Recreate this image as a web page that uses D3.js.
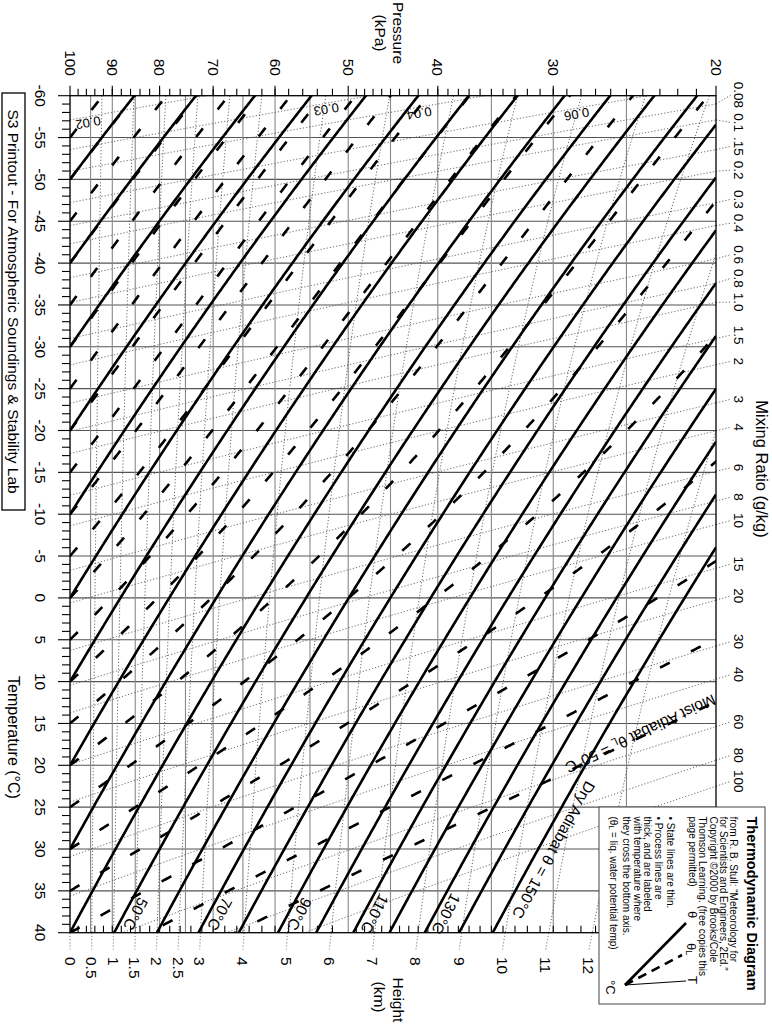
<!DOCTYPE html>
<html><head><meta charset="utf-8">
<script src="https://cdn.jsdelivr.net/npm/d3@7"></script>
<style>
body{margin:0;background:#fff}
svg{display:block}
text{font-family:"Liberation Sans",Arial,Helvetica,sans-serif;fill:#000}
</style>
</head><body>
<svg id="c" width="772" height="1024"></svg>
<script>
// ---------------- data ----------------
const pressureTicks = [100, 90, 80, 70, 60, 50, 40, 30, 20];
const temperatureTicks = [-60,-55,-50,-45,-40,-35,-30,-25,-20,-15,-10,-5,0,5,10,15,20,25,30,35,40];
const dryAdiabats = [-50,-40,-30,-20,-10,0,10,20,30,40,50,60,70,80,90,100,110,120,130,140,150];
const dryLabelled = [50, 70, 90, 110, 130];
const moistAdiabats = [-55,-50,-45,-40,-35,-30,-25,-20,-15,-10,-5,0,5,10,15,20,25,30,35,40,45,50];
const mixingRatios = [0.02,0.03,0.04,0.06,0.08,0.1,0.15,0.2,0.3,0.4,0.6,0.8,1.0,1.5,2,3,4,6,8,10,15,20,30,40,60,80,100];
const mixingLabels = ["0.02","0.03","0.04","0.06","0.08","0.1",".15","0.2","0.3","0.4","0.6","0.8","1.0","1.5","2","3","4","6","8","10","15","20","30","40","60","80","100"];
const heightsKm = [0,0.5,1,1.5,2,2.5,3,4,5,6,7,8,9,10,11,12];
const heightLabels = ["0","0.5","1","1.5","2","2.5","3","4","5","6","7","8","9","10","11","12"];
const legendLines = ["from R. B. Stull: \u201CMeteorology for","for Scientists and Engineers, 2Ed.\u201D","Copyright \u00A92000 by Brooks/Cole","Thomson Learning. (free copies this","page permitted)"];
const legendNotes = ["\u2022 State lines are thin.","\u2022 Process lines are","thick, and are labeled","with temperature where","they cross the bottom axis."];

// ---------------- setup ----------------
const svg = d3.select("#c");
const X0 = 70, X1 = 716, Y0 = 95.7, Y1 = 932.7;
const x = d3.scaleLog().domain([100, 20]).range([X0, X1]);
const y = d3.scaleLinear().domain([-60, 40]).range([Y0, Y1]);
const K = 273.15, Rd = 287, cp = 1004, Lv = 2.5e6, eps = 0.622, kap = Rd / cp;
const RoverG = 29.45;

svg.append("rect").attr("width", 772).attr("height", 1024).attr("fill", "#fff");
svg.append("defs").append("clipPath").attr("id", "plot")
  .append("rect").attr("x", X0).attr("y", Y0).attr("width", X1 - X0).attr("height", Y1 - Y0);

const line = d3.line().x(d => x(d[0])).y(d => y(d[1]));
const N = 500;
const Ps = d3.range(0, N + 1).map(i => 100 * Math.pow(0.2, i / N));

function es(Tc) { return 0.6113 * Math.exp(5423 * (1 / K - 1 / (Tc + K))); }
function rsat(Tk, P) { const e = es(Tk - K); return eps * e / (P - e); }
function Tmix(r, P) { const e = r * P / (eps + r); return 1 / (1 / K - Math.log(e / 0.6113) / 5423) - K; }

const plot = svg.append("g").attr("clip-path", "url(#plot)");

// grid
const gridT = d3.range(-55, 40, 5);
const gridP = d3.range(95, 20, -5);
plot.selectAll(".gt").data(gridT).join("line")
  .attr("x1", X0).attr("x2", X1).attr("y1", d => y(d)).attr("y2", d => y(d))
  .attr("stroke", "#555").attr("stroke-width", 1.1);
plot.selectAll(".gp").data(gridP).join("line")
  .attr("x1", d => x(d)).attr("x2", d => x(d)).attr("y1", Y0).attr("y2", Y1)
  .attr("stroke", "#888").attr("stroke-width", 1.1);

// height lines (dotted)
const Tlab = 42;
function heightPts(z, t0, t1) {
  return d3.range(0, 101).map(i => { const T = t0 + (t1 - t0) * i / 100; return [100 * Math.exp(-z * 1000 / (RoverG * (T + K))), T]; });
}
const dotted = { stroke: "#555", w: 0.9, dash: "1.2,2" };
heightsKm.forEach(z => {
  plot.append("path").attr("d", line(heightPts(z, -60, 40).filter(d => d[0] >= 19.9)))
    .attr("fill", "none").attr("stroke", dotted.stroke).attr("stroke-width", dotted.w).attr("stroke-dasharray", dotted.dash);
  svg.append("path").attr("d", line(heightPts(z, 40, Tlab)))
    .attr("fill", "none").attr("stroke", dotted.stroke).attr("stroke-width", dotted.w).attr("stroke-dasharray", dotted.dash);
});

// mixing ratio lines (dotted)
const Pend = x.invert(731);
const outer = [];
mixingRatios.forEach((r, i) => {
  const rk = r / 1000;
  const pts = Ps.map(P => [P, Tmix(rk, P)]);
  plot.append("path").attr("d", line(pts)).attr("fill", "none")
    .attr("stroke", dotted.stroke).attr("stroke-width", dotted.w).attr("stroke-dasharray", dotted.dash);
  if (Tmix(rk, 20) > -60) {
    const lab = mixingLabels[i];
    const em = lab.split("").reduce((s, ch) => s + (ch === "." ? 0.278 : 0.556), 0);
    outer.push({ i, yb: y(Tmix(rk, 20)), c: y(Tmix(rk, Pend)), half: em * 13.5 / 2 });
  }
});
// spread labels so they do not overlap
for (let it = 0; it < 300; it++) {
  for (let k = 0; k < outer.length - 1; k++) {
    const a = outer[k], b = outer[k + 1];
    const need = a.half + b.half + 5, gap = b.c - a.c;
    if (gap < need) { const d = (need - gap) / 2; a.c -= d; b.c += d; }
  }
}
outer.forEach(o => {
  svg.append("line").attr("x1", X1).attr("y1", o.yb).attr("x2", 731).attr("y2", o.c)
    .attr("stroke", dotted.stroke).attr("stroke-width", dotted.w).attr("stroke-dasharray", dotted.dash);
  svg.append("text").attr("transform", `translate(738,${o.c}) rotate(90)`)
    .attr("text-anchor", "middle").attr("dominant-baseline", "central")
    .attr("font-size", 13.5).text(mixingLabels[o.i]);
});
// inner labels for the smallest mixing ratios
const innerP = [95.6, 52.8, 41.9, 28.3];
mixingRatios.slice(0, 4).forEach((r, i) => {
  const rk = r / 1000, P = innerP[i];
  const px = x(P), py = y(Tmix(rk, P));
  const px2 = x(P * 0.97), py2 = y(Tmix(rk, P * 0.97));
  const ang = Math.atan2(py2 - py, px2 - px) * 180 / Math.PI + 180;
  svg.append("text").attr("transform", `translate(${px},${py + 6}) rotate(${ang})`)
    .attr("text-anchor", "middle").attr("dominant-baseline", "central")
    .attr("font-size", 13).text(mixingLabels[i]);
});

// dry adiabats
function dryPts(th) { return Ps.map(P => [P, (th + K) * Math.pow(P / 100, kap) - K]); }
dryAdiabats.forEach(th => {
  plot.append("path").attr("d", line(dryPts(th))).attr("fill", "none")
    .attr("stroke", "#000").attr("stroke-width", 2.6);
});

// moist adiabats (pseudo-adiabats, RK4 in ln P)
function moistPts(thL) {
  const f = (T, lnP) => { const P = Math.exp(lnP); const r = rsat(T, P); return (Rd * T + Lv * r) / (cp + Lv * Lv * r * eps / (Rd * T * T)); };
  let T = thL + K, lnP = Math.log(100);
  const h = (Math.log(19.5) - lnP) / N;
  const out = [[100, thL]];
  for (let i = 0; i < N; i++) {
    const k1 = f(T, lnP), k2 = f(T + h * k1 / 2, lnP + h / 2), k3 = f(T + h * k2 / 2, lnP + h / 2), k4 = f(T + h * k3, lnP + h);
    T += h * (k1 + 2 * k2 + 2 * k3 + k4) / 6; lnP += h;
    out.push([Math.exp(lnP), T - K]);
  }
  return out;
}
const moistCurves = {};
moistAdiabats.forEach(th => {
  const pts = moistPts(th); moistCurves[th] = pts;
  plot.append("path").attr("d", line(pts)).attr("fill", "none")
    .attr("stroke", "#000").attr("stroke-width", 2.6).attr("stroke-dasharray", "11,24");
});

// borders
svg.append("rect").attr("x", X0).attr("y", Y0).attr("width", X1 - X0).attr("height", Y1 - Y0)
  .attr("fill", "none").attr("stroke", "#000").attr("stroke-width", 1.3);

// pressure ticks
const pMinor = d3.range(98, 50, -2).concat(d3.range(49, 20, -1));
const tk = svg.append("g").attr("stroke", "#000").attr("stroke-width", 1.1);
tk.selectAll(".pt").data(pMinor).join("line")
  .attr("x1", d => x(d)).attr("x2", d => x(d)).attr("y1", Y0 - 7).attr("y2", Y0);
tk.selectAll(".pb").data(pMinor).join("line")
  .attr("x1", d => x(d)).attr("x2", d => x(d)).attr("y1", Y1 - 7).attr("y2", Y1);
tk.selectAll(".pM").data(pressureTicks).join("line")
  .attr("x1", d => x(d)).attr("x2", d => x(d)).attr("y1", Y0 - 10).attr("y2", Y0);
// temperature ticks
tk.selectAll(".tt").data(d3.range(-60, 41, 1)).join("line")
  .attr("x1", d => X0 - (d % 5 === 0 ? 12 : 8)).attr("x2", X0).attr("y1", d => y(d)).attr("y2", d => y(d));

// tick labels
svg.selectAll(".pl").data(pressureTicks).join("text")
  .attr("transform", d => `translate(${x(d)},76) rotate(90)`)
  .attr("text-anchor", "end").attr("dominant-baseline", "central").attr("font-size", 15.5).text(d => d);
svg.selectAll(".tl").data(temperatureTicks).join("text")
  .attr("transform", d => `translate(40,${y(d)}) rotate(90)`)
  .attr("text-anchor", "middle").attr("dominant-baseline", "central").attr("font-size", 15.5).text(d => d);
svg.selectAll(".hl").data(heightsKm).join("text")
  .attr("transform", d => `translate(${x(100 * Math.exp(-d * 1000 / (RoverG * (Tlab + K))))},957) rotate(90)`)
  .attr("text-anchor", "start").attr("dominant-baseline", "central").attr("font-size", 15.5).text((d, i) => heightLabels[i]);

// axis titles
function vtext(px, py, s, size, anchor, weight) {
  return svg.append("text").attr("transform", `translate(${px},${py}) rotate(90)`)
    .attr("text-anchor", anchor || "middle").attr("dominant-baseline", "central")
    .attr("font-size", size).attr("font-weight", weight || "normal").text(s);
}
vtext(398, 33, "Pressure", 15.5);
vtext(380, 33, "(kPa)", 15.5);
vtext(762, 469, "Mixing Ratio  (g/kg)", 16.5);
vtext(398, 1000, "Height", 15.5);
vtext(379, 997, "(km)", 15.5);
vtext(13, 676, "Temperature  (\u00B0C)", 16, "start");
svg.append("rect").attr("x", 2).attr("y", 93).attr("width", 23).attr("height", 417)
  .attr("fill", "none").attr("stroke", "#000").attr("stroke-width", 1.3);
vtext(13.5, 301.5, "S3 Printout - For Atmospheric Soundings & Stability Lab", 15.5);

// dry adiabat labels
function dryLabel(th, T, off, s) {
  const P1 = 100 * Math.pow((T + K) / (th + K), 1 / kap);
  const P2 = 100 * Math.pow((T + 1 + K) / (th + K), 1 / kap);
  const ang = Math.atan2(y(T + 1) - y(T), x(P2) - x(P1));
  const ux = Math.sin(ang), uy = -Math.cos(ang);
  svg.append("text").attr("transform", `translate(${x(P1) + ux * off},${y(T) + uy * off}) rotate(${ang * 180 / Math.PI})`)
    .attr("text-anchor", "middle").attr("dominant-baseline", "central").attr("font-size", 15.5)
    .text(s);
}
dryLabelled.forEach(th => dryLabel(th, 37.2, 10, th + "\u00B0C"));
dryLabel(150, 29.3, 14, "Dry Adiabat  \u03B8 = 150\u00B0C");

// moist adiabat label
{
  const pts = moistCurves[50];
  let best = pts[0];
  pts.forEach(p => { if (Math.abs(x(p[0]) - 636) < Math.abs(x(best[0]) - 636)) best = p; });
  const idx = pts.indexOf(best);
  const p2 = pts[idx - 10];
  const ang = Math.atan2(y(p2[1]) - y(best[1]), x(p2[0]) - x(best[0]));
  const ux = Math.sin(ang), uy = -Math.cos(ang), off = 12;
  const t = svg.append("text").attr("transform", `translate(${x(best[0]) + ux * off},${y(best[1]) + uy * off - 16}) rotate(${ang * 180 / Math.PI})`)
    .attr("text-anchor", "middle").attr("dominant-baseline", "central").attr("font-size", 15.5);
  t.append("tspan").text("Moist Adiabat  \u03B8");
  t.append("tspan").attr("font-size", 11).attr("dy", 4).text("L");
  t.append("tspan").attr("dy", -4).text(" = 50\u00B0C");
}

// legend box
const lg = svg.append("g");
lg.append("rect").attr("x", 599).attr("y", 807).attr("width", 166).attr("height", 197)
  .attr("fill", "#fff").attr("stroke", "#444").attr("stroke-width", 1);
function ltext(px, py, s, size, weight) {
  return lg.append("text").attr("transform", `translate(${px},${py}) rotate(90)`)
    .attr("text-anchor", "start").attr("dominant-baseline", "central")
    .attr("font-size", size).attr("font-weight", weight || "normal").text(s);
}
ltext(752, 816.5, "Thermodynamic Diagram", 14.5, "bold");
const lx = [733, 723, 713, 702.5, 692];
legendLines.forEach((s, i) => ltext(lx[i], 816.5, s, 10));
const nx = [670, 658.5, 647.5, 637, 626];
legendNotes.forEach((s, i) => ltext(nx[i], 816.5, s, 10));
{
  const t = lg.append("text").attr("transform", `translate(613.5,816.5) rotate(90)`)
    .attr("dominant-baseline", "central").attr("font-size", 10);
  t.append("tspan").text("(\u03B8");
  t.append("tspan").attr("font-size", 7).attr("dy", 2).text("L");
  t.append("tspan").attr("dy", -2).text(" = liq. water potential temp)");
}
const O = [625, 985];
lg.append("line").attr("x1", O[0]).attr("y1", O[1]).attr("x2", 686).attr("y2", 923).attr("stroke", "#000").attr("stroke-width", 2.6);
lg.append("line").attr("x1", O[0]).attr("y1", O[1]).attr("x2", 682).attr("y2", 955).attr("stroke", "#000").attr("stroke-width", 2.6).attr("stroke-dasharray", "9,6");
lg.append("line").attr("x1", O[0]).attr("y1", O[1]).attr("x2", 686).attr("y2", 981).attr("stroke", "#000").attr("stroke-width", 1);
ltext(692, 911, "\u03B8", 13);
{
  const t = lg.append("text").attr("transform", `translate(692,943) rotate(90)`)
    .attr("dominant-baseline", "central").attr("font-size", 13);
  t.append("tspan").text("\u03B8");
  t.append("tspan").attr("font-size", 9).attr("dy", 3).text("L");
}
ltext(692, 976, "T", 13);
ltext(610, 980, "\u00B0C", 13);
</script>
</body></html>
